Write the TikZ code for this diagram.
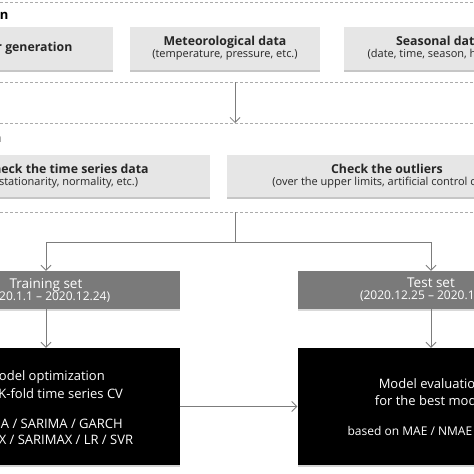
\documentclass[tikz,border=0pt]{standalone}
\usepackage{fontspec}
\setmainfont{Open Sans}
\usetikzlibrary{arrows.meta,shadows}

\definecolor{boxgray}{HTML}{E6E6E6}
\definecolor{setgray}{HTML}{7A7A7A}
\definecolor{linegray}{HTML}{7C7C7C}
\definecolor{dashgray}{HTML}{ABABAB}

\newcommand{\bigline}{\fontsize{12.3}{14}\selectfont}
\newcommand{\smallline}{\fontsize{11}{13}\selectfont}

\tikzset{
  databox/.style={fill=boxgray, text=black!85, align=center, inner sep=0pt,
    drop shadow={shadow xshift=0pt, shadow yshift=-2pt, opacity=0.45}},
  setbox/.style={fill=setgray, text=white, align=center, inner sep=0pt,
    minimum width=267pt, minimum height=38pt,
    drop shadow={shadow xshift=0pt, shadow yshift=-1.5pt, opacity=0.3}},
  modelbox/.style={fill=black, inner sep=0pt,
    minimum width=267pt, minimum height=117pt,
    drop shadow={shadow xshift=0pt, shadow yshift=-2pt, opacity=0.35}},
  modeltext/.style={text=white, align=center, inner sep=0pt,
    font=\fontsize{13}{16}\selectfont},
  sepline/.style={dashgray, line width=0.8pt, dash pattern=on 3pt off 2pt},
  link/.style={linegray, line width=0.8pt, -{Straight Barb[length=5pt,width=10pt]}},
  title/.style={font=\fontsize{13}{15}\selectfont\bfseries},
}

\begin{document}
\begin{tikzpicture}[x=1pt,y=-1pt]
  \useasboundingbox (0,0) rectangle (474,474);
  \clip (0,0) rectangle (474,474);

  % section 1
  \draw[sepline] (0,2) -- (474,2);
  \node[title, anchor=base east] (head1) at (12,19) {Data collection};
  \node[databox, minimum width=190pt, minimum height=43pt] (power) at (18,48.5)
    {\bigline\bfseries Power generation};
  \node[databox, minimum width=190pt, minimum height=43pt] (meteo) at (225,48.5)
    {{\bigline\bfseries Meteorological data}\\[0pt]
     {\smallline (temperature, pressure, etc.)}};
  \node[databox, minimum width=190pt, minimum height=43pt] (season) at (439,48.5)
    {{\bigline\bfseries Seasonal data}\\[0pt]
     {\smallline (date, time, season, holiday)}};
  \draw[sepline] (0,82) -- (474,82);
  \coordinate (out1) at (235,82);

  % section 2
  \draw[sepline] (0,123) -- (474,123);
  \coordinate (in2) at (235,123);
  \node[title, anchor=base east] (head2) at (5,142) {Data validation};
  \node[databox, minimum width=286pt, minimum height=42pt] (series) at (67,176)
    {{\bigline\bfseries Check the time series data}\\[0pt]
     {\smallline (stationarity, normality, etc.)}};
  \node[databox, minimum width=320pt, minimum height=42pt] (outlier) at (387,176)
    {{\bigline\bfseries Check the outliers}\\[0pt]
     {\smallline (over the upper limits, artificial control cases)}};
  \draw[sepline] (0,212) -- (474,212);
  \coordinate (out2) at (235,212);
  \coordinate (split) at (235,242);

  % data split
  \node[setbox] (train) at (46,290)
    {{\fontsize{13.5}{15}\selectfont Training set}\\[0pt]
     {\fontsize{12}{14}\selectfont (2020.1.1 -- 2020.12.24)}};
  \node[setbox] (test) at (431,290)
    {{\fontsize{13.5}{15}\selectfont Test set}\\[0pt]
     {\fontsize{12}{14}\selectfont (2020.12.25 -- 2020.12.31)}};

  % models
  \node[modelbox] (optim) at (46,406.5) {};
  \node[modeltext] (optimtext) at (46,408)
    {Model optimization\\[2pt] with K-fold time series CV\\[14pt]
     ARIMA / SARIMA / GARCH\\ ARIMAX / SARIMAX / LR / SVR};
  \node[modelbox] (eval) at (431,406.5) {};
  \node[modeltext] (evaltext) at (431,407)
    {Model evaluation\\[1pt] for the best model\\[14pt]
     \fontsize{12}{16}\selectfont based on MAE / NMAE / RMSE};

  % connectors
  \draw[link] (out1) -- (in2);
  \draw[link] (out2) -- (split) -| (train.north);
  \draw[link] (split) -| (test.north);
  \draw[link] (train) -- (optim);
  \draw[link] (test) -- (eval);
  \draw[link] (optim.east) -- (eval.west);
\end{tikzpicture}
\end{document}
